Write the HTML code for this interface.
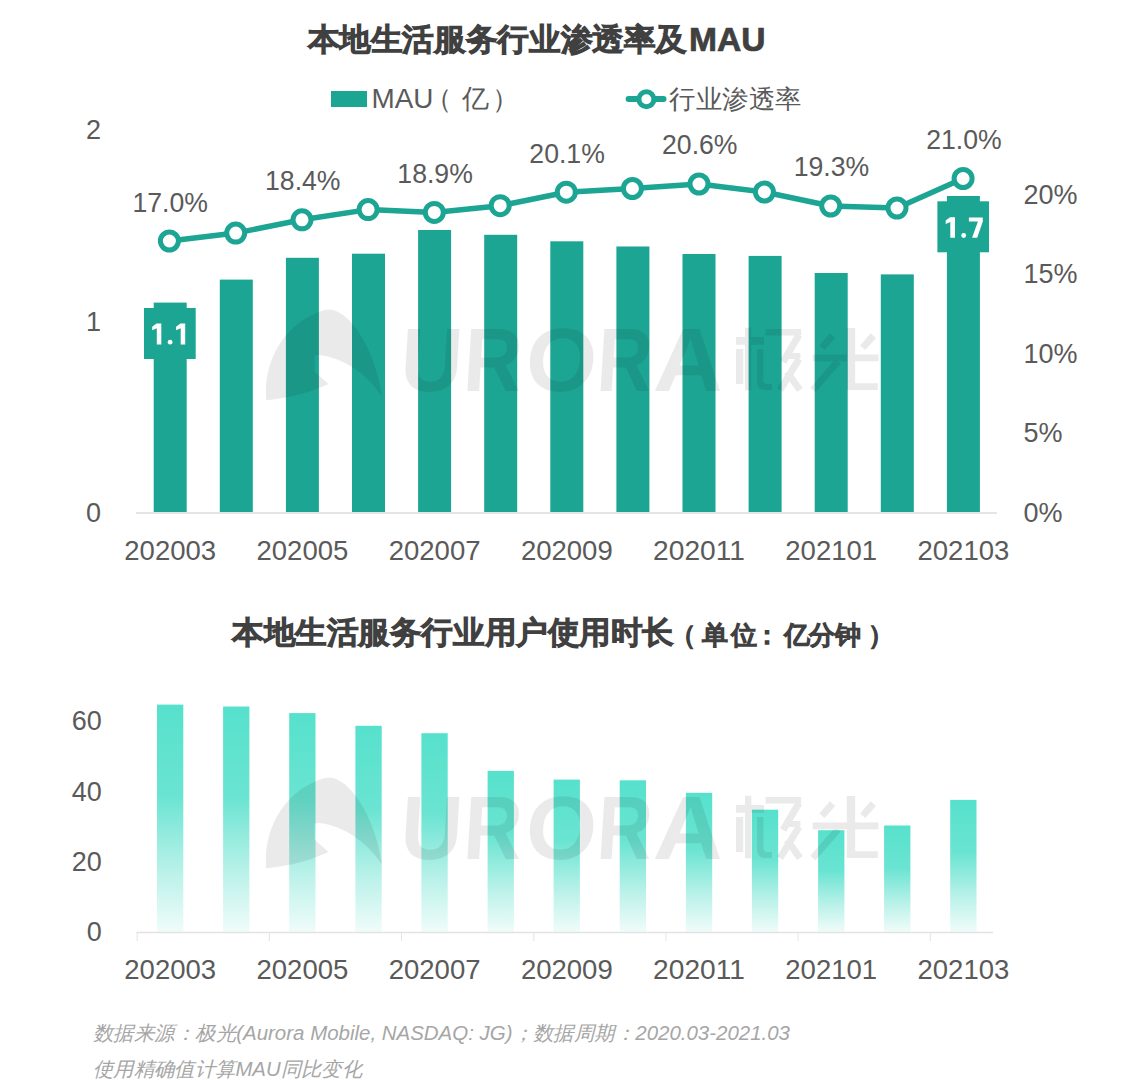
<!DOCTYPE html><html><head><meta charset="utf-8"><style>
html,body{margin:0;padding:0;background:#fff;}
svg{display:block;font-family:"Liberation Sans",sans-serif;}
</style></head><body>
<svg width="1125" height="1080" viewBox="0 0 1125 1080">
<defs>
<linearGradient id="g2" x1="0" y1="0" x2="0" y2="1">
<stop offset="0" stop-color="#56e1cc"/>
<stop offset="0.4" stop-color="#6ae4d2"/>
<stop offset="0.75" stop-color="#bdf2ea"/>
<stop offset="1" stop-color="#f0fcfa"/>
</linearGradient>
</defs>
<rect width="1125" height="1080" fill="#fff"/>

<text x="307.5" y="50.4" font-size="31" fill="#404040" stroke="#404040" stroke-width="1.9" textLength="379.5" lengthAdjust="spacingAndGlyphs">本地生活服务行业渗透率及</text><text x="689" y="51.3" font-size="33" font-weight="bold" fill="#404040" stroke="#404040" stroke-width="0.7" textLength="76.5" lengthAdjust="spacingAndGlyphs">MAU</text>
<rect x="331" y="91" width="36" height="16" fill="#1da594"/>
<text x="371.5" y="107.7" font-size="27" fill="#5a5a5a" textLength="62" lengthAdjust="spacingAndGlyphs">MAU</text>
<text x="425.2" y="107.7" font-size="27" fill="#5a5a5a">（</text>
<text x="462" y="107.7" font-size="27" fill="#5a5a5a">亿</text>
<text x="491.9" y="107.7" font-size="27" fill="#5a5a5a">）</text>
<line x1="628.6" y1="99" x2="663.5" y2="99" stroke="#1da594" stroke-width="6" stroke-linecap="round"/>
<circle cx="646.4" cy="99.3" r="7.5" fill="#fff" stroke="#1da594" stroke-width="5"/>
<text x="669.4" y="108" font-size="26" fill="#5a5a5a" textLength="132" lengthAdjust="spacingAndGlyphs">行业渗透率</text>
<line x1="136" y1="513" x2="997" y2="513" stroke="#dcdcdc" stroke-width="1.4"/>
<rect x="153.7" y="302.6" width="33" height="209.4" fill="#1da594"/>
<rect x="219.8" y="279.6" width="33" height="232.4" fill="#1da594"/>
<rect x="285.9" y="257.8" width="33" height="254.2" fill="#1da594"/>
<rect x="352.0" y="253.7" width="33" height="258.3" fill="#1da594"/>
<rect x="418.1" y="230" width="33" height="282.0" fill="#1da594"/>
<rect x="484.2" y="234.8" width="33" height="277.2" fill="#1da594"/>
<rect x="550.3" y="241.3" width="33" height="270.7" fill="#1da594"/>
<rect x="616.4" y="246.5" width="33" height="265.5" fill="#1da594"/>
<rect x="682.5" y="254" width="33" height="258.0" fill="#1da594"/>
<rect x="748.6" y="255.9" width="33" height="256.1" fill="#1da594"/>
<rect x="814.7" y="273" width="33" height="239.0" fill="#1da594"/>
<rect x="880.8" y="274.4" width="33" height="237.6" fill="#1da594"/>
<rect x="946.9" y="196" width="33" height="316.0" fill="#1da594"/>
<g transform="translate(0,0)" opacity="0.08"><path fill="#000" d="M266.2,400.3 C263,360 285,322 324.7,310.1 C345,304 375,345 381.9,396.6 C368,375 345,358 319.7,354.9 L314.7,355.5 L314.7,371.7 L328.4,384.1 C312,392 290,398 266.2,400.3 Z"/><g transform="translate(398.9,390.6) skewX(-3.5)"><text x="0" y="0" font-size="90" font-weight="bold" textLength="61.8" lengthAdjust="spacingAndGlyphs" fill="#000">U</text></g><g transform="translate(462.1,390.6) skewX(-3.5)"><text x="0" y="0" font-size="90" font-weight="bold" textLength="58.6" lengthAdjust="spacingAndGlyphs" fill="#000">R</text></g><g transform="translate(524.3,390.6) skewX(-3.5)"><text x="0" y="0" font-size="90" font-weight="bold" textLength="71" lengthAdjust="spacingAndGlyphs" fill="#000">O</text></g><g transform="translate(595.4,390.6) skewX(-3.5)"><text x="0" y="0" font-size="90" font-weight="bold" textLength="55.2" lengthAdjust="spacingAndGlyphs" fill="#000">R</text></g><g transform="translate(652.6,390.6) skewX(-3.5)"><text x="0" y="0" font-size="90" font-weight="bold" textLength="70" lengthAdjust="spacingAndGlyphs" fill="#000">A</text></g><path fill="#000" d="M736,337 H764 V344.8 H736 Z M745,327.7 H751.3 V390.3 H745 Z M736,349 H743.2 V383.9 H736 Z M765.6,329 H801.1 V335.5 H765.6 Z M784,353 H800.4 V359 H784 Z M757,349 H763.4 V380 Q763.4,384 768,384 H772 V390 H765 Q757,390 757,382 Z M846.8,328 H855.1 V390 H846.8 Z M812.8,354.5 H878.5 V361.3 H812.8 Z M846.8,383.2 H877.8 V390 H846.8 Z"/><path fill="none" stroke="#000" stroke-width="7" d="M799,335 L783,362 M799,359 L780,390 M787,372 L800,390 M832.5,335.6 L822,347.7 M873.3,335.6 L862.7,347.7 M838,361.3 L813,390"/></g>
<rect x="144" y="308" width="51.7" height="51" fill="#1da594"/>
<path fill="#fff" d="M161.3,323.5 L161.3,344.6 L156.8,344.6 L156.8,328.3 L152.2,330.3 L152.2,326.8 L156.5,323.5 Z M185.2,323.5 L185.2,344.6 L180.7,344.6 L180.7,328.3 L176.1,330.3 L176.1,326.8 L180.4,323.5 Z"/><circle cx="170.1" cy="342.2" r="2.4" fill="#fff"/>
<rect x="937.4" y="201.3" width="51.6" height="51" fill="#1da594"/>
<path fill="#fff" d="M955.0,217.2 L955.0,237.8 L950.3,237.8 L950.3,222.0 L945.7,224.0 L945.7,220.5 L950.0,217.2 Z M968.9,217.4 L982.8,217.4 L982.8,221.6 L977.2,237.8 L972.1,237.8 L977.9,221.6 L968.9,221.6 Z"/><circle cx="963.7" cy="235.5" r="2.4" fill="#fff"/>
<polyline points="169.4,241 235.7,233.1 302,219.8 368.1,209.6 434.3,212.4 500.2,205.7 566.3,192.2 632.4,188.5 699,184 764.4,192 830.7,206 897,208 963.1,178.5" fill="none" stroke="#1da594" stroke-width="5.5" stroke-linejoin="round"/>
<circle cx="169.4" cy="241" r="9" fill="#fff" stroke="#1da594" stroke-width="5"/>
<circle cx="235.7" cy="233.1" r="9" fill="#fff" stroke="#1da594" stroke-width="5"/>
<circle cx="302" cy="219.8" r="9" fill="#fff" stroke="#1da594" stroke-width="5"/>
<circle cx="368.1" cy="209.6" r="9" fill="#fff" stroke="#1da594" stroke-width="5"/>
<circle cx="434.3" cy="212.4" r="9" fill="#fff" stroke="#1da594" stroke-width="5"/>
<circle cx="500.2" cy="205.7" r="9" fill="#fff" stroke="#1da594" stroke-width="5"/>
<circle cx="566.3" cy="192.2" r="9" fill="#fff" stroke="#1da594" stroke-width="5"/>
<circle cx="632.4" cy="188.5" r="9" fill="#fff" stroke="#1da594" stroke-width="5"/>
<circle cx="699" cy="184" r="9" fill="#fff" stroke="#1da594" stroke-width="5"/>
<circle cx="764.4" cy="192" r="9" fill="#fff" stroke="#1da594" stroke-width="5"/>
<circle cx="830.7" cy="206" r="9" fill="#fff" stroke="#1da594" stroke-width="5"/>
<circle cx="897" cy="208" r="9" fill="#fff" stroke="#1da594" stroke-width="5"/>
<circle cx="963.1" cy="178.5" r="9" fill="#fff" stroke="#1da594" stroke-width="5"/>
<text x="170.2" y="212" font-size="27" fill="#5a5a5a" text-anchor="middle" textLength="75.5" lengthAdjust="spacingAndGlyphs">17.0%</text>
<text x="302.8" y="190.2" font-size="27" fill="#5a5a5a" text-anchor="middle" textLength="75.5" lengthAdjust="spacingAndGlyphs">18.4%</text>
<text x="435.1" y="182.8" font-size="27" fill="#5a5a5a" text-anchor="middle" textLength="75.5" lengthAdjust="spacingAndGlyphs">18.9%</text>
<text x="567.1" y="163" font-size="27" fill="#5a5a5a" text-anchor="middle" textLength="75.5" lengthAdjust="spacingAndGlyphs">20.1%</text>
<text x="699.8" y="154.4" font-size="27" fill="#5a5a5a" text-anchor="middle" textLength="75.5" lengthAdjust="spacingAndGlyphs">20.6%</text>
<text x="831.5" y="175.7" font-size="27" fill="#5a5a5a" text-anchor="middle" textLength="75.5" lengthAdjust="spacingAndGlyphs">19.3%</text>
<text x="963.9" y="148.9" font-size="27" fill="#5a5a5a" text-anchor="middle" textLength="75.5" lengthAdjust="spacingAndGlyphs">21.0%</text>
<text x="101" y="138.9" font-size="27" fill="#5a5a5a" text-anchor="end">2</text>
<text x="101" y="330.8" font-size="27" fill="#5a5a5a" text-anchor="end">1</text>
<text x="101" y="522" font-size="27" fill="#5a5a5a" text-anchor="end">0</text>
<text x="1023.4" y="203.6" font-size="27" fill="#5a5a5a">20%</text>
<text x="1023.4" y="283" font-size="27" fill="#5a5a5a">15%</text>
<text x="1023.4" y="362.5" font-size="27" fill="#5a5a5a">10%</text>
<text x="1023.4" y="442.3" font-size="27" fill="#5a5a5a">5%</text>
<text x="1023.4" y="521.8" font-size="27" fill="#5a5a5a">0%</text>
<text x="170.2" y="560.1" font-size="28" fill="#5a5a5a" text-anchor="middle" textLength="91.8" lengthAdjust="spacingAndGlyphs">202003</text>
<text x="302.4" y="560.1" font-size="28" fill="#5a5a5a" text-anchor="middle" textLength="91.8" lengthAdjust="spacingAndGlyphs">202005</text>
<text x="434.6" y="560.1" font-size="28" fill="#5a5a5a" text-anchor="middle" textLength="91.8" lengthAdjust="spacingAndGlyphs">202007</text>
<text x="566.8" y="560.1" font-size="28" fill="#5a5a5a" text-anchor="middle" textLength="91.8" lengthAdjust="spacingAndGlyphs">202009</text>
<text x="699.0" y="560.1" font-size="28" fill="#5a5a5a" text-anchor="middle" textLength="91.8" lengthAdjust="spacingAndGlyphs">202011</text>
<text x="831.2" y="560.1" font-size="28" fill="#5a5a5a" text-anchor="middle" textLength="91.8" lengthAdjust="spacingAndGlyphs">202101</text>
<text x="963.4" y="560.1" font-size="28" fill="#5a5a5a" text-anchor="middle" textLength="91.8" lengthAdjust="spacingAndGlyphs">202103</text>
<text x="232" y="643" font-size="31" fill="#404040" stroke="#404040" stroke-width="1.9" textLength="442" lengthAdjust="spacingAndGlyphs">本地生活服务行业用户使用时长</text>
<text y="644" font-size="26" fill="#404040" stroke="#404040" stroke-width="1.6"><tspan x="669.6">（</tspan><tspan x="702.2">单</tspan><tspan x="730.7">位</tspan><tspan x="753.8">：</tspan><tspan x="784">亿</tspan><tspan x="809">分</tspan><tspan x="834.8">钟</tspan><tspan x="868.1">）</tspan></text>
<rect x="157.0" y="704.6" width="26.3" height="227.4" fill="url(#g2)"/>
<rect x="223.1" y="706.5" width="26.3" height="225.5" fill="url(#g2)"/>
<rect x="289.2" y="713.1" width="26.3" height="218.9" fill="url(#g2)"/>
<rect x="355.4" y="725.8" width="26.3" height="206.2" fill="url(#g2)"/>
<rect x="421.4" y="733.2" width="26.3" height="198.8" fill="url(#g2)"/>
<rect x="487.6" y="770.9" width="26.3" height="161.1" fill="url(#g2)"/>
<rect x="553.6" y="779.6" width="26.3" height="152.4" fill="url(#g2)"/>
<rect x="619.7" y="780.3" width="26.3" height="151.7" fill="url(#g2)"/>
<rect x="685.9" y="792.8" width="26.3" height="139.2" fill="url(#g2)"/>
<rect x="751.9" y="809.7" width="26.3" height="122.3" fill="url(#g2)"/>
<rect x="818.1" y="830.2" width="26.3" height="101.8" fill="url(#g2)"/>
<rect x="884.1" y="825.5" width="26.3" height="106.5" fill="url(#g2)"/>
<rect x="950.2" y="799.9" width="26.3" height="132.1" fill="url(#g2)"/>
<g transform="translate(0,468)" opacity="0.08"><path fill="#000" d="M266.2,400.3 C263,360 285,322 324.7,310.1 C345,304 375,345 381.9,396.6 C368,375 345,358 319.7,354.9 L314.7,355.5 L314.7,371.7 L328.4,384.1 C312,392 290,398 266.2,400.3 Z"/><g transform="translate(398.9,390.6) skewX(-3.5)"><text x="0" y="0" font-size="90" font-weight="bold" textLength="61.8" lengthAdjust="spacingAndGlyphs" fill="#000">U</text></g><g transform="translate(462.1,390.6) skewX(-3.5)"><text x="0" y="0" font-size="90" font-weight="bold" textLength="58.6" lengthAdjust="spacingAndGlyphs" fill="#000">R</text></g><g transform="translate(524.3,390.6) skewX(-3.5)"><text x="0" y="0" font-size="90" font-weight="bold" textLength="71" lengthAdjust="spacingAndGlyphs" fill="#000">O</text></g><g transform="translate(595.4,390.6) skewX(-3.5)"><text x="0" y="0" font-size="90" font-weight="bold" textLength="55.2" lengthAdjust="spacingAndGlyphs" fill="#000">R</text></g><g transform="translate(652.6,390.6) skewX(-3.5)"><text x="0" y="0" font-size="90" font-weight="bold" textLength="70" lengthAdjust="spacingAndGlyphs" fill="#000">A</text></g><path fill="#000" d="M736,337 H764 V344.8 H736 Z M745,327.7 H751.3 V390.3 H745 Z M736,349 H743.2 V383.9 H736 Z M765.6,329 H801.1 V335.5 H765.6 Z M784,353 H800.4 V359 H784 Z M757,349 H763.4 V380 Q763.4,384 768,384 H772 V390 H765 Q757,390 757,382 Z M846.8,328 H855.1 V390 H846.8 Z M812.8,354.5 H878.5 V361.3 H812.8 Z M846.8,383.2 H877.8 V390 H846.8 Z"/><path fill="none" stroke="#000" stroke-width="7" d="M799,335 L783,362 M799,359 L780,390 M787,372 L800,390 M832.5,335.6 L822,347.7 M873.3,335.6 L862.7,347.7 M838,361.3 L813,390"/></g>
<line x1="136.3" y1="932.5" x2="993" y2="932.5" stroke="#e3e3e3" stroke-width="1.3"/>
<line x1="137.2" y1="932.5" x2="137.2" y2="941" stroke="#e6e6e6" stroke-width="1.1"/>
<line x1="269.4" y1="932.5" x2="269.4" y2="941" stroke="#e6e6e6" stroke-width="1.1"/>
<line x1="401.5" y1="932.5" x2="401.5" y2="941" stroke="#e6e6e6" stroke-width="1.1"/>
<line x1="533.8" y1="932.5" x2="533.8" y2="941" stroke="#e6e6e6" stroke-width="1.1"/>
<line x1="665.9" y1="932.5" x2="665.9" y2="941" stroke="#e6e6e6" stroke-width="1.1"/>
<line x1="798.1" y1="932.5" x2="798.1" y2="941" stroke="#e6e6e6" stroke-width="1.1"/>
<line x1="930.3" y1="932.5" x2="930.3" y2="941" stroke="#e6e6e6" stroke-width="1.1"/>
<text x="101.8" y="730.1" font-size="27" fill="#5a5a5a" text-anchor="end">60</text>
<text x="101.8" y="800.7" font-size="27" fill="#5a5a5a" text-anchor="end">40</text>
<text x="101.8" y="871.3" font-size="27" fill="#5a5a5a" text-anchor="end">20</text>
<text x="101.8" y="940.7" font-size="27" fill="#5a5a5a" text-anchor="end">0</text>
<text x="170.2" y="978.7" font-size="28" fill="#5a5a5a" text-anchor="middle" textLength="91.8" lengthAdjust="spacingAndGlyphs">202003</text>
<text x="302.4" y="978.7" font-size="28" fill="#5a5a5a" text-anchor="middle" textLength="91.8" lengthAdjust="spacingAndGlyphs">202005</text>
<text x="434.6" y="978.7" font-size="28" fill="#5a5a5a" text-anchor="middle" textLength="91.8" lengthAdjust="spacingAndGlyphs">202007</text>
<text x="566.8" y="978.7" font-size="28" fill="#5a5a5a" text-anchor="middle" textLength="91.8" lengthAdjust="spacingAndGlyphs">202009</text>
<text x="699.0" y="978.7" font-size="28" fill="#5a5a5a" text-anchor="middle" textLength="91.8" lengthAdjust="spacingAndGlyphs">202011</text>
<text x="831.2" y="978.7" font-size="28" fill="#5a5a5a" text-anchor="middle" textLength="91.8" lengthAdjust="spacingAndGlyphs">202101</text>
<text x="963.4" y="978.7" font-size="28" fill="#5a5a5a" text-anchor="middle" textLength="91.8" lengthAdjust="spacingAndGlyphs">202103</text>
<text x="93" y="1040" font-size="20" font-style="italic" fill="#a6a6a6" textLength="697" lengthAdjust="spacingAndGlyphs">数据来源：极光(Aurora Mobile, NASDAQ: JG)；数据周期：2020.03-2021.03</text>
<text x="93" y="1076" font-size="20" font-style="italic" fill="#a6a6a6" textLength="269" lengthAdjust="spacingAndGlyphs">使用精确值计算MAU同比变化</text>
</svg></body></html>
